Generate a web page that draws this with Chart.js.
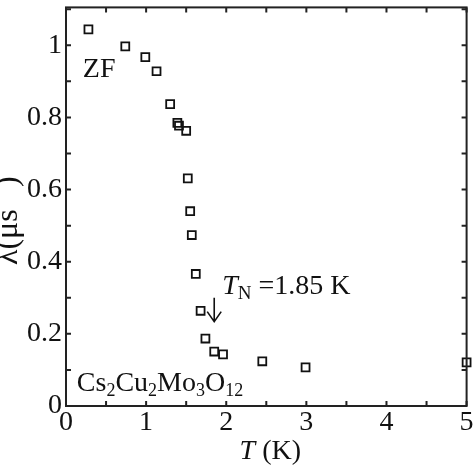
<!DOCTYPE html>
<html lang="en">
<head>
<meta charset="UTF-8">
<title>Muon relaxation rate vs T</title>
<script src="https://cdn.jsdelivr.net/npm/chart.js@4/dist/chart.umd.min.js"></script>
<style>
  html, body { margin: 0; padding: 0; background: #fff; }
  canvas { display: block; }
</style>
</head>
<body>
<canvas id="chart" width="474" height="474"></canvas>
<script>
// temperature (K) and relaxation rate lambda (1/us)
const temps   = [0.28, 0.74, 0.99, 1.13, 1.30, 1.39, 1.41, 1.50, 1.52, 1.55, 1.57, 1.62, 1.68, 1.74, 1.85, 1.96, 2.45, 2.99, 5.0];
const lambdas = [1.044, 0.997, 0.967, 0.928, 0.837, 0.785, 0.777, 0.763, 0.631, 0.540, 0.474, 0.366, 0.264, 0.187, 0.151, 0.143, 0.124, 0.107, 0.121];

const xTicks = [0, 1, 2, 3, 4, 5];
const yTicks = [0, 0.2, 0.4, 0.6, 0.8, 1];
const yTickLabels = ['0', '0.2', '0.4', '0.6', '0.8', '1'];
const xMinor = [0.5, 1.5, 2.5, 3.5, 4.5];
const yMinor = [0.1, 0.3, 0.5, 0.7, 0.9, 1.1];
const TN = 1.85;

const FONT = '"Liberation Serif", "Times New Roman", serif';
const INK = '#111';

// draws a run of text pieces (sub/superscripts, italics) starting at x,y baseline
function richText(ctx, x, y, parts) {
  let cx = x;
  parts.forEach(p => {
    ctx.font = (p.italic ? 'italic ' : '') + p.size + 'px ' + FONT;
    ctx.fillText(p.t, cx, y + (p.dy || 0));
    cx += ctx.measureText(p.t).width;
  });
  return cx - x;
}
function richWidth(ctx, parts) {
  let w = 0;
  parts.forEach(p => {
    ctx.font = (p.italic ? 'italic ' : '') + p.size + 'px ' + FONT;
    w += ctx.measureText(p.t).width;
  });
  return w;
}

const decor = {
  id: 'decor',
  afterDraw(chart) {
    const {ctx, chartArea: a, scales: {x, y}} = chart;
    ctx.save();
    ctx.strokeStyle = '#222';
    ctx.lineWidth = 2;
    ctx.strokeRect(a.left, a.top, a.right - a.left, a.bottom - a.top);

    // inward ticks on all four sides
    const tl = 5;
    ctx.beginPath();
    xTicks.concat(xMinor).forEach(v => {
      const px = x.getPixelForValue(v);
      ctx.moveTo(px, a.bottom); ctx.lineTo(px, a.bottom - tl);
      ctx.moveTo(px, a.top); ctx.lineTo(px, a.top + tl);
    });
    yTicks.concat(yMinor).forEach(v => {
      const py = y.getPixelForValue(v);
      ctx.moveTo(a.left, py); ctx.lineTo(a.left + tl, py);
      ctx.moveTo(a.right, py); ctx.lineTo(a.right - tl, py);
    });
    ctx.stroke();

    ctx.fillStyle = INK;
    ctx.textBaseline = 'alphabetic';
    ctx.textAlign = 'left';

    // ZF
    richText(ctx, x.getPixelForValue(0.21), y.getPixelForValue(0.912), [{t: 'ZF', size: 28}]);

    // compound name
    richText(ctx, x.getPixelForValue(0.135), y.getPixelForValue(0.041), [
      {t: 'Cs', size: 28}, {t: '2', size: 18, dy: 5},
      {t: 'Cu', size: 28}, {t: '2', size: 18, dy: 5},
      {t: 'Mo', size: 28}, {t: '3', size: 18, dy: 5},
      {t: 'O', size: 28}, {t: '12', size: 18, dy: 5}
    ]);

    // T_N label and arrow
    richText(ctx, x.getPixelForValue(1.95), y.getPixelForValue(0.311), [
      {t: 'T', size: 28, italic: true}, {t: 'N', size: 19, dy: 5},
      {t: ' =1.85 K', size: 28}
    ]);
    const ax = x.getPixelForValue(TN);
    const y0 = y.getPixelForValue(0.30), y1 = y.getPixelForValue(0.234);
    ctx.strokeStyle = INK;
    ctx.lineWidth = 1.6;
    ctx.beginPath();
    ctx.moveTo(ax, y0); ctx.lineTo(ax, y1);
    ctx.moveTo(ax - 7, y1 - 10); ctx.lineTo(ax, y1); ctx.lineTo(ax + 7, y1 - 10);
    ctx.stroke();

    // x axis title
    const xParts = [{t: 'T', size: 28, italic: true}, {t: ' (K)', size: 28}];
    const xw = richWidth(ctx, xParts);
    richText(ctx, (a.left + a.right) / 2 - xw / 2 + 4, 459, xParts);

    // y axis title (rotated, partly off the left edge like the original)
    const yParts = [{t: 'λ(μs', size: 32}, {t: '−1', size: 21, dy: -19}, {t: ')', size: 32}];
    const yw = richWidth(ctx, yParts);
    ctx.translate(17, (a.top + a.bottom) / 2 + 14);
    ctx.rotate(-Math.PI / 2);
    richText(ctx, -yw / 2, 0, yParts);
    ctx.restore();
  }
};

new Chart(document.getElementById('chart'), {
  type: 'scatter',
  data: {
    datasets: [{
      data: temps.map((t, i) => ({x: t, y: lambdas[i]})),
      pointStyle: 'rect',
      pointRadius: 5.6,
      pointBorderWidth: 1.8,
      borderColor: INK,
      backgroundColor: 'rgba(255,255,255,0)',
      clip: false
    }]
  },
  options: {
    responsive: false,
    animation: false,
    layout: {padding: {top: 6, right: 1, left: 0, bottom: 0}},
    plugins: {legend: {display: false}, tooltip: {enabled: false}},
    scales: {
      x: {
        type: 'linear', min: 0, max: 5,
        grid: {display: false, drawTicks: false},
        border: {display: false},
        ticks: {
          color: INK, padding: 0, maxRotation: 0, autoSkip: false,
          font: {family: FONT, size: 28, lineHeight: 1.2}
        },
        afterBuildTicks: s => { s.ticks = xTicks.map(v => ({value: v})); },
        afterFit: s => { s.height = 68; s.paddingLeft = 0; s.paddingRight = 0; }
      },
      y: {
        type: 'linear', min: 0, max: 1.105,
        grid: {display: false, drawTicks: false},
        border: {display: false},
        ticks: {
          color: INK, padding: 4, autoSkip: false,
          font: {family: FONT, size: 28},
          callback: (v) => { const i = yTicks.indexOf(v); return i >= 0 ? yTickLabels[i] : ''; }
        },
        afterBuildTicks: s => { s.ticks = yTicks.map(v => ({value: v})); },
        afterFit: s => { s.width = 66; s.paddingTop = 0; s.paddingBottom = 0; }
      }
    }
  },
  plugins: [decor]
});
</script>
</body>
</html>
